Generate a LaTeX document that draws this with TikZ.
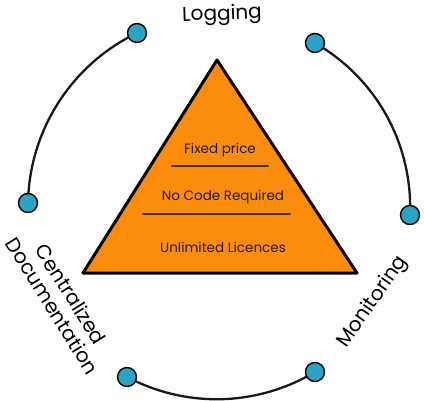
\documentclass[tikz,border=0pt]{standalone}
\usepackage{fontspec}
\setmainfont{Poppins}
\usepackage{tikz}
\usetikzlibrary{arrows.meta,positioning,backgrounds,calc}
\usepackage{xcolor}
\definecolor{pyOrange}{HTML}{FB8C0C}
\definecolor{pyTeal}{HTML}{2AA3C4}
\definecolor{pyInk}{HTML}{1E1A16}
\tikzset{
    dot/.style={circle,draw=black,fill=pyTeal,line width=1.4pt,minimum size=19pt,inner sep=0pt},
    ring/.style={draw=black!90,line width=2.3pt,looseness=0.92},
    pyramid/.style={draw=black,fill=pyOrange,line width=3pt,line join=round},
    layer/.style={font=\fontsize{13.5}{15}\selectfont,text=pyInk,inner sep=1pt},
    rule/.style={draw=pyInk!90,line width=2pt,line cap=round},
    outer/.style={font=\fontsize{20}{22}\selectfont,text=black,align=center,inner sep=0pt}
}

\begin{document}
\begin{tikzpicture}[x=1pt,y=1pt]
    \useasboundingbox (0,0) rectangle (424,400);

    % Pyramid
    \draw[pyramid] (217,340) -- (357,127) -- (83,127) -- cycle;

    % Layers of the pyramid
    \node[layer] (fixed) at (220,250) {Fixed price};
    \node[layer] (nocode) at (223,203) {No Code Required};
    \node[layer] (unlim) at (223,153) {Unlimited Licences};
    \draw[rule] (172,234) -- (268,234);
    \draw[rule] (143,186) -- (290,186);

    % Dots on the ring
    \node[dot] (tl) at (137,367) {};
    \node[dot] (tr) at (315,357) {};
    \node[dot] (lf) at (28,197) {};
    \node[dot] (rt) at (410,185) {};
    \node[dot] (bl) at (127,23) {};
    \node[dot] (br) at (315,28) {};

    % Ring segments
    \begin{scope}[on background layer]
        \draw[ring] (tl.center) to[bend right=31.7] (lf.center);
        \draw[ring] (tr.center) to[bend left=31.2] (rt.center);
        \draw[ring] (bl.center) to[bend right=29.1] (br.center);
    \end{scope}

    % Labels in the gaps
    \node[outer,rotate=2] (logging) at (222,385) {Logging};
    \node[outer,rotate=55] (monitoring) at (373,98) {Monitoring};
    \node[outer,rotate=-58] (docs) at (62,100) {Centralized\\Documentation};
\end{tikzpicture}
\end{document}
